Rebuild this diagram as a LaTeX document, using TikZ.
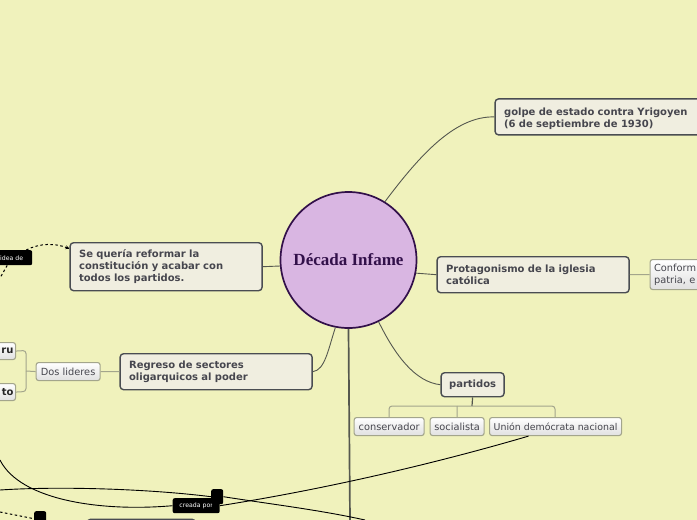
\documentclass[tikz,border=0pt]{standalone}
\usepackage{fontspec}
\usetikzlibrary{arrows.meta}
\setmainfont{DejaVu Sans}
\newfontfamily\titlefont{Liberation Serif}
\definecolor{bgc}{HTML}{F0F2BC}
\definecolor{circf}{HTML}{D9B6E2}
\definecolor{circd}{HTML}{32104A}
\definecolor{boxf}{HTML}{F0EEE0}
\definecolor{boxd}{HTML}{4A4D52}
\definecolor{txt}{HTML}{46464E}
\definecolor{kidd}{HTML}{A3A58C}
\definecolor{lnk}{HTML}{55584F}
\tikzset{
  mainbox/.style={draw=boxd,fill=boxf,line width=1.4pt,rounded corners=3.5pt,inner xsep=0pt,inner ysep=0pt,text=txt,
    font=\fontsize{10}{12}\selectfont\bfseries,align=left,anchor=north west},
  kid/.style={draw=kidd,top color=white,bottom color=black!12,line width=1.1pt,rounded corners=2.5pt,inner sep=0pt,text=txt,
    font=\fontsize{9.8}{12}\selectfont,anchor=north west},
  kidbold/.style={kid,text=black!85,font=\fontsize{10}{12}\selectfont\bfseries},
  blk/.style={fill=black,rounded corners=2pt,inner sep=0pt,text=white,font=\fontsize{6.2}{8}\selectfont,anchor=north west},
  branch/.style={draw=lnk,line width=0.9pt},
  soft/.style={draw=kidd,line width=1pt},
  rel/.style={draw=black,line width=0.9pt},
  reld/.style={draw=black,line width=1pt,dash pattern=on 2.5pt off 2.5pt},
}
\begin{document}
\begin{tikzpicture}[x=1pt,y=-1pt]
\useasboundingbox (0,0) rectangle (697,520);
\clip (0,0) rectangle (697,520);
\fill[bgc] (0,0) rectangle (697,520);

% centre
\node[circle,draw=circd,fill=circf,line width=1.7pt,minimum size=136pt,inner sep=0pt,text=circd,
  font=\titlefont\fontsize{17}{19}\selectfont\bfseries] (c) at (348.5,260) {Década Infame};

% main topics
\node[mainbox,minimum width=240pt,minimum height=36pt,text width=240pt] (golpe) at (494.4,98.2)
  {\rule{0pt}{11.5pt}\hspace*{9pt}golpe de estado contra Yrigoyen\\\hspace*{9pt}(6 de septiembre de 1930)};
\node[mainbox,minimum width=192pt,minimum height=36pt,text width=192pt] (prot) at (436.4,256)
  {\hspace*{9pt}Protagonismo de la iglesia\\\hspace*{9pt}católica};
\node[mainbox,minimum width=192pt,minimum height=48pt,text width=192pt] (refor) at (69.4,242)
  {\hspace*{9pt}Se quería reformar la\\\hspace*{9pt}constitución y acabar con\\\hspace*{9pt}todos los partidos.};
\node[mainbox,minimum width=192pt,minimum height=36pt,text width=192pt] (regr) at (119.4,353)
  {\hspace*{9pt}Regreso de sectores\\\hspace*{9pt}oligarquicos al poder};
\node[mainbox,minimum width=63pt,minimum height=24pt,align=center] (part) at (440.4,372) {partidos};
\node[mainbox,minimum width=108pt,minimum height=10pt] (bot) at (86.6,518.5) {};

% children
\node[kid,minimum width=70pt,minimum height=18pt] (cons) at (353.6,417) {conservador};
\node[kid,minimum width=54pt,minimum height=18pt] (soci) at (429.6,417) {socialista};
\node[kid,minimum width=132pt,minimum height=18pt,font=\fontsize{9.4}{11}\selectfont] (unio) at (489,417) {Unión demócrata nacional};
\node[kid,minimum width=60pt,minimum height=30pt,text width=60pt,align=left] (conf) at (649.6,259)
  {\hspace*{4pt}Conform\\\hspace*{4pt}patria, e};
\node[kid,minimum width=64pt,minimum height=18pt] (dos) at (35.6,362) {Dos lideres};
\node[kidbold,minimum width=30pt,minimum height=17pt,text width=26pt,align=right] (ru) at (-15,342) {ru};
\node[kidbold,minimum width=30pt,minimum height=17pt,text width=26pt,align=right] (to) at (-15,383) {to};

% black link labels
\node[blk,minimum width=37pt,minimum height=15pt] (idea) at (-5,250) {idea de\hspace*{4pt}};
\node[blk,minimum width=47pt,minimum height=15pt] (crea) at (172.5,498) {creada por};
\node[blk,minimum width=12pt,minimum height=15pt] (sq1) at (211,489) {};
\node[blk,minimum width=12pt,minimum height=15pt] (sq2) at (34,511) {};
\coordinate (la) at (0,460);
\coordinate (lb) at (0,490);
\coordinate (lc) at (365,520);
\coordinate (ld) at (0,278);
\coordinate (le) at (0,512);
\coordinate (vb) at (350,521);

% branches
\draw[branch] (c.58) .. controls (420,155) and (455,116) .. (golpe.west);
\draw[branch] (c.-11) -- (prot.west);
\draw[branch] (refor.east) -- (c.185);
\draw[branch] (c.259) .. controls (328,350) and (325,370) .. (regr.east);
\draw[branch] (c.-64) .. controls (395,355) and (415,382) .. (part.west);
\draw[draw=lnk,line width=1.7pt] (c.south) -- (vb);
\draw[draw=lnk,line width=1.2pt] (part.south) -- (472,406);

% soft connectors
\draw[soft] (prot.east) -- (conf.west);
\draw[soft] (regr.west) -- (dos.east);
\draw[soft] (dos.west) -- (26,371);
\draw[soft,rounded corners=3pt] (ru.east) -- (26,350.5) -- (26,391.5) -- (to.east);
\draw[soft,rounded corners=3pt] (cons.north) -- (389,406) -- (555,406) -- (555,417);
\draw[soft] (457,406) -- (soci.north);

% relations
\draw[rel] ([xshift=-27pt]unio.south) .. controls (430,465) and (320,490) .. (crea.east);
\draw[rel] (crea.west) .. controls (100,512) and (20,500) .. (la);
\draw[rel] (lb) .. controls (60,486) and (150,489) .. (sq1.west);
\draw[rel] (sq1.east) .. controls (270,504) and (320,510) .. (lc);
\draw[reld,-{Stealth[length=4pt,width=4pt]}] ([xshift=12.5pt]idea.north) .. controls (40,243) and (55,243) .. ([yshift=18pt]refor.west);
\draw[reld] ([xshift=-6.5pt]idea.south) -- (ld);
\draw[reld] (le) -- (sq2.west);
\end{tikzpicture}
\end{document}
